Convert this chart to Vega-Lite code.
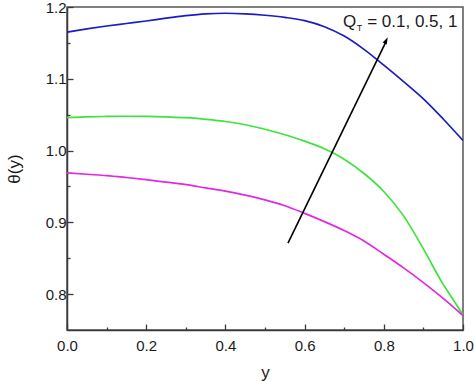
{
  "$schema": "https://vega.github.io/schema/vega-lite/v6.json",
  "width": 396,
  "height": 323,
  "autosize": "none",
  "padding": {"left": 67, "top": 7, "right": 11, "bottom": 51},
  "background": "white",
  "config": {
    "font": "Liberation Sans",
    "view": {"stroke": "#555555", "strokeWidth": 1.5},
    "axis": {
      "grid": false,
      "domainColor": "#3a3a3a",
      "domainWidth": 1.5,
      "tickColor": "#3a3a3a",
      "tickWidth": 1.3,
      "labelFont": "Liberation Sans",
      "labelFontSize": 15,
      "labelColor": "#1a1a1a",
      "labelOverlap": false,
      "labelFlush": false,
      "titleFont": "Liberation Sans",
      "titleFontSize": 17,
      "titleFontWeight": "normal",
      "titleColor": "#1a1a1a"
    }
  },
  "resolve": {"axis": {"x": "independent", "y": "independent"}},
  "datasets": {
    "curves": [
      {"yv": 0.0, "theta": 1.165, "QT": "1"},
      {"yv": 0.05, "theta": 1.1695, "QT": "1"},
      {"yv": 0.1, "theta": 1.1735, "QT": "1"},
      {"yv": 0.15, "theta": 1.177, "QT": "1"},
      {"yv": 0.2, "theta": 1.1805, "QT": "1"},
      {"yv": 0.25, "theta": 1.1845, "QT": "1"},
      {"yv": 0.3, "theta": 1.188, "QT": "1"},
      {"yv": 0.35, "theta": 1.1905, "QT": "1"},
      {"yv": 0.4, "theta": 1.1913, "QT": "1"},
      {"yv": 0.45, "theta": 1.1905, "QT": "1"},
      {"yv": 0.5, "theta": 1.1885, "QT": "1"},
      {"yv": 0.55, "theta": 1.1855, "QT": "1"},
      {"yv": 0.6, "theta": 1.181, "QT": "1"},
      {"yv": 0.65, "theta": 1.1725, "QT": "1"},
      {"yv": 0.7, "theta": 1.1595, "QT": "1"},
      {"yv": 0.75, "theta": 1.141, "QT": "1"},
      {"yv": 0.8, "theta": 1.119, "QT": "1"},
      {"yv": 0.85, "theta": 1.096, "QT": "1"},
      {"yv": 0.9, "theta": 1.072, "QT": "1"},
      {"yv": 0.95, "theta": 1.044, "QT": "1"},
      {"yv": 1.0, "theta": 1.014, "QT": "1"},
      {"yv": 0.0, "theta": 1.046, "QT": "0.5"},
      {"yv": 0.05, "theta": 1.047, "QT": "0.5"},
      {"yv": 0.1, "theta": 1.0475, "QT": "0.5"},
      {"yv": 0.15, "theta": 1.0478, "QT": "0.5"},
      {"yv": 0.2, "theta": 1.0475, "QT": "0.5"},
      {"yv": 0.25, "theta": 1.0468, "QT": "0.5"},
      {"yv": 0.3, "theta": 1.0458, "QT": "0.5"},
      {"yv": 0.35, "theta": 1.0435, "QT": "0.5"},
      {"yv": 0.4, "theta": 1.0405, "QT": "0.5"},
      {"yv": 0.45, "theta": 1.036, "QT": "0.5"},
      {"yv": 0.5, "theta": 1.0297, "QT": "0.5"},
      {"yv": 0.55, "theta": 1.022, "QT": "0.5"},
      {"yv": 0.6, "theta": 1.0132, "QT": "0.5"},
      {"yv": 0.65, "theta": 1.0025, "QT": "0.5"},
      {"yv": 0.7, "theta": 0.988, "QT": "0.5"},
      {"yv": 0.75, "theta": 0.968, "QT": "0.5"},
      {"yv": 0.8, "theta": 0.943, "QT": "0.5"},
      {"yv": 0.85, "theta": 0.909, "QT": "0.5"},
      {"yv": 0.9, "theta": 0.863, "QT": "0.5"},
      {"yv": 0.95, "theta": 0.8135, "QT": "0.5"},
      {"yv": 0.975, "theta": 0.7925, "QT": "0.5"},
      {"yv": 1.0, "theta": 0.771, "QT": "0.5"},
      {"yv": 0.0, "theta": 0.969, "QT": "0.1"},
      {"yv": 0.05, "theta": 0.967, "QT": "0.1"},
      {"yv": 0.1, "theta": 0.9652, "QT": "0.1"},
      {"yv": 0.15, "theta": 0.9625, "QT": "0.1"},
      {"yv": 0.2, "theta": 0.9595, "QT": "0.1"},
      {"yv": 0.25, "theta": 0.956, "QT": "0.1"},
      {"yv": 0.3, "theta": 0.9525, "QT": "0.1"},
      {"yv": 0.35, "theta": 0.948, "QT": "0.1"},
      {"yv": 0.4, "theta": 0.9435, "QT": "0.1"},
      {"yv": 0.45, "theta": 0.9378, "QT": "0.1"},
      {"yv": 0.5, "theta": 0.9312, "QT": "0.1"},
      {"yv": 0.55, "theta": 0.9232, "QT": "0.1"},
      {"yv": 0.6, "theta": 0.9125, "QT": "0.1"},
      {"yv": 0.65, "theta": 0.901, "QT": "0.1"},
      {"yv": 0.7, "theta": 0.8885, "QT": "0.1"},
      {"yv": 0.75, "theta": 0.874, "QT": "0.1"},
      {"yv": 0.8, "theta": 0.8555, "QT": "0.1"},
      {"yv": 0.85, "theta": 0.8365, "QT": "0.1"},
      {"yv": 0.9, "theta": 0.816, "QT": "0.1"},
      {"yv": 0.95, "theta": 0.794, "QT": "0.1"},
      {"yv": 1.0, "theta": 0.77, "QT": "0.1"}
    ],
    "arrow": [
      {"yv": 0.558, "theta": 0.871},
      {"yv": 0.805, "theta": 1.151}
    ],
    "arrowhead": [
      {"yv": 0.81, "theta": 1.158}
    ],
    "labels": [
      {"yv": 0.697, "theta": 1.1725, "txt": "Q"},
      {"yv": 0.758, "theta": 1.1725, "txt": "= 0.1, 0.5, 1"}
    ],
    "sublabels": [
      {"yv": 0.732, "theta": 1.1665, "txt": "T"}
    ]
  },
  "layer": [
    {
      "data": {"name": "curves"},
      "mark": {"type": "line", "strokeWidth": 1.7, "interpolate": "monotone", "clip": true},
      "encoding": {
        "x": {
          "field": "yv", "type": "quantitative",
          "scale": {"domain": [0, 1], "nice": false, "zero": false},
          "axis": {
            "orient": "bottom",
            "title": "y",
            "values": [0, 0.2, 0.4, 0.6, 0.8, 1.0],
            "format": ".1f",
            "tickSize": -6,
            "labelPadding": 14,
            "titlePadding": 11
          }
        },
        "y": {
          "field": "theta", "type": "quantitative",
          "scale": {"domain": [0.75, 1.2], "nice": false, "zero": false},
          "axis": {
            "orient": "left",
            "title": "θ(y)",
            "values": [0.8, 0.9, 1.0, 1.1, 1.2],
            "format": ".1f",
            "tickSize": -6,
            "labelPadding": 7,
            "titlePadding": 22
          }
        },
        "color": {
          "field": "QT", "type": "nominal",
          "scale": {"domain": ["0.1", "0.5", "1"], "range": ["#e02ae0", "#3ce43c", "#1c1cc4"]},
          "legend": null
        }
      }
    },
    {
      "data": {"name": "arrow"},
      "mark": {"type": "line", "color": "#000000", "strokeWidth": 1.6},
      "encoding": {
        "x": {
          "field": "yv", "type": "quantitative",
          "axis": {"orient": "bottom", "title": null, "values": [0.1, 0.3, 0.5, 0.7, 0.9], "labels": false, "domain": false, "tickSize": -3}
        },
        "y": {
          "field": "theta", "type": "quantitative",
          "axis": {"orient": "left", "title": null, "values": [0.85, 0.95, 1.05, 1.15], "labels": false, "domain": false, "tickSize": -3}
        }
      }
    },
    {
      "data": {"name": "arrowhead"},
      "mark": {
        "type": "point",
        "shape": "M0,0L0.45,1.4L-0.45,1.4Z",
        "size": 100,
        "angle": 26,
        "filled": true,
        "color": "#000000",
        "opacity": 1
      },
      "encoding": {
        "x": {"field": "yv", "type": "quantitative", "axis": null},
        "y": {"field": "theta", "type": "quantitative", "axis": null}
      }
    },
    {
      "data": {"name": "labels"},
      "mark": {"type": "text", "align": "left", "baseline": "alphabetic", "fontSize": 17, "color": "#1a1a1a"},
      "encoding": {
        "x": {"field": "yv", "type": "quantitative", "axis": null},
        "y": {"field": "theta", "type": "quantitative", "axis": null},
        "text": {"field": "txt"}
      }
    },
    {
      "data": {"name": "sublabels"},
      "mark": {"type": "text", "align": "left", "baseline": "alphabetic", "fontSize": 9, "color": "#1a1a1a"},
      "encoding": {
        "x": {"field": "yv", "type": "quantitative", "axis": null},
        "y": {"field": "theta", "type": "quantitative", "axis": null},
        "text": {"field": "txt"}
      }
    }
  ]
}
